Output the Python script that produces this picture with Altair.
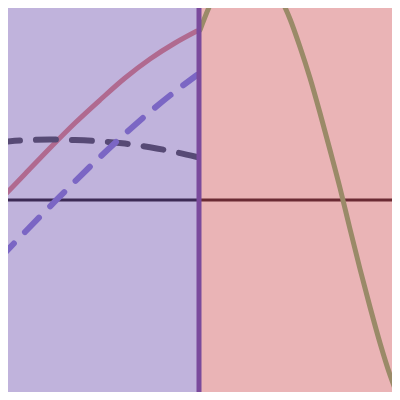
import altair as alt
import pandas as pd

# Regions (x units: 100 px = 1)
region_start = [0.0, 1.99]
region_end = [1.99, 3.99]
region_name = ["left", "right"]

# Left solid curve
left_x = [0, 0.25, 0.5, 0.75, 1.0, 1.25, 1.5, 1.75, 1.97]
left_y = [0, 0.26, 0.52, 0.77, 1.00, 1.22, 1.41, 1.57, 1.69]

# Left dark dashed curve
dark_x = [0, 0.25, 0.5, 0.75, 1.0, 1.25, 1.5, 1.75, 1.97]
dark_y = [0.58, 0.597, 0.605, 0.60, 0.587, 0.564, 0.527, 0.48, 0.43]

# Left blue dashed curve
blue_x = [0, 0.25, 0.5, 0.75, 1.0, 1.25, 1.5, 1.75, 1.97]
blue_y = [-0.58, -0.32, -0.065, 0.187, 0.43, 0.662, 0.882, 1.085, 1.25]

# Right solid curve
olive_x = [2.0, 2.1, 2.2, 2.3, 2.4, 2.5, 2.6, 2.7, 2.8, 2.9, 3.0,
           3.1, 3.2, 3.3, 3.4, 3.5, 3.6, 3.7, 3.8, 3.9, 4.0]
olive_y = [1.70, 1.95, 2.14, 2.28, 2.35, 2.37, 2.32, 2.20, 2.03, 1.81, 1.53,
           1.22, 0.87, 0.50, 0.12, -0.29, -0.69, -1.07, -1.43, -1.75, -2.01]

W, H = 384, 384
xs = alt.Scale(domain=[0.08, 3.92], nice=False, zero=False)
ys = alt.Scale(domain=[-1.92, 1.92], nice=False, zero=False)

regions = pd.DataFrame({"x0": region_start, "x1": region_end, "name": region_name, "y": [0, 0]})
bg = alt.Chart(regions).mark_rect(clip=True).encode(
    x=alt.X("x0:Q", scale=xs, axis=None),
    x2="x1:Q",
    y=alt.value(0),
    y2=alt.value(H),
    color=alt.Color("name:N", scale=alt.Scale(domain=region_name, range=["#c0b3dc", "#eab4b6"]), legend=None),
)

hline = alt.Chart(regions).mark_rule(strokeWidth=3, clip=True).encode(
    x=alt.X("x0:Q", scale=xs, axis=None),
    x2="x1:Q",
    y=alt.Y("y:Q", scale=ys, axis=None),
    color=alt.Color("name:N", scale=alt.Scale(domain=region_name, range=["#3c2a55", "#6a2a33"]), legend=None),
)

def curve(xv, yv, color, width, dash=None):
    df = pd.DataFrame({"x": xv, "y": yv})
    kw = dict(color=color, strokeWidth=width, interpolate="monotone", clip=True, strokeCap="round")
    if dash:
        kw["strokeDash"] = dash
    return alt.Chart(df).mark_line(**kw).encode(
        x=alt.X("x:Q", scale=xs, axis=None),
        y=alt.Y("y:Q", scale=ys, axis=None),
    )

c_left = curve(left_x, left_y, "#b06a90", 5)
c_dark = curve(dark_x, dark_y, "#574a75", 6, [20, 16])
c_blue = curve(blue_x, blue_y, "#7b66c4", 6, [20, 16])
c_olive = curve(olive_x, olive_y, "#9a8a68", 5)

vline = alt.Chart(pd.DataFrame({"x": [1.99]})).mark_rule(color="#7a4a9c", strokeWidth=5).encode(
    x=alt.X("x:Q", scale=xs, axis=None),
    y=alt.value(0),
    y2=alt.value(H),
)

chart = alt.layer(bg, hline, c_left, c_dark, c_blue, c_olive, vline).resolve_scale(
    color="independent"
).properties(
    width=W, height=H, padding=0, autosize=alt.AutoSizeParams(type="none")
).configure_view(stroke=None)

chart.save("out.html", embed_options={"renderer": "svg", "actions": False})
